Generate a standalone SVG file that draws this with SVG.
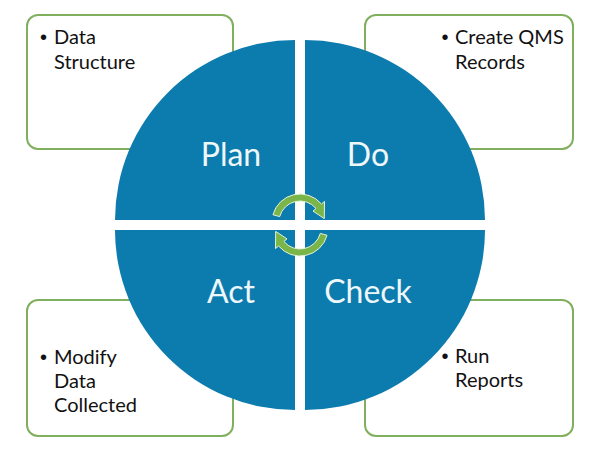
<svg xmlns="http://www.w3.org/2000/svg" width="596" height="455" viewBox="0 0 596 455">
<defs>
<style>
.box{fill:#fff;stroke:#80B05E;stroke-width:2}
.q{fill:#0C7BAE}
.big{font-family:Lato,"Open Sans","Liberation Sans",sans-serif;font-size:32px;fill:#EEF7FA;text-anchor:middle}
.t{font-family:Lato,"Open Sans","Liberation Sans",sans-serif;font-size:20px;fill:#111}
.b{font-family:"Liberation Sans",sans-serif;font-size:20px;fill:#111;text-anchor:middle}
.arr{fill:#79B548;stroke:#E6F2DA;stroke-width:1}
</style>
</defs>
<rect width="596" height="455" fill="#fff"/>
<g id="box-plan"><rect class="box" x="27" y="15" width="206" height="134" rx="11"/>
<text class="b" x="43.5" y="44">•</text><text class="t" x="54" y="44">Data</text><text class="t" x="54" y="69">Structure</text></g>
<g id="box-do"><rect class="box" x="365" y="15" width="208" height="134" rx="11"/>
<text class="b" x="445" y="44">•</text><text class="t" x="455" y="44">Create QMS</text><text class="t" x="455" y="69">Records</text></g>
<g id="box-act"><rect class="box" x="27" y="300" width="206" height="136" rx="11"/>
<text class="b" x="43.5" y="364">•</text><text class="t" x="54" y="364">Modify</text><text class="t" x="54" y="388">Data</text><text class="t" x="54" y="412">Collected</text></g>
<g id="box-check"><rect class="box" x="365" y="300" width="208" height="136" rx="11"/>
<text class="b" x="445" y="363">•</text><text class="t" x="455" y="363">Run</text><text class="t" x="455" y="387">Reports</text></g>
<g id="plan"><path class="q" d="M295,220 L115,220 A180,180 0 0 1 295,40 Z"/><text class="big" x="231" y="166">Plan</text></g>
<g id="do"><path class="q" d="M305,220 L305,40 A180,180 0 0 1 485,220 Z"/><text class="big" x="368" y="166">Do</text></g>
<g id="check"><path class="q" d="M305,230 L485,230 A180,180 0 0 1 305,410 Z"/><text class="big" x="368" y="303">Check</text></g>
<g id="act"><path class="q" d="M295,230 L295,410 A180,180 0 0 1 115,230 Z"/><text class="big" x="231" y="303">Act</text></g>
<g id="connectors">
<path class="arr" d="M272.95,214.75 A28,28 0 0 1 321.45,204 L324.5,201.4 L324.3,218.6 L313,211.1 L316.1,208.5 A21,21 0 0 0 279.7,216.6 Z"/>
<path class="arr" transform="rotate(180 300 225)" d="M272.95,214.75 A28,28 0 0 1 321.45,204 L324.5,201.4 L324.3,218.6 L313,211.1 L316.1,208.5 A21,21 0 0 0 279.7,216.6 Z"/>
</g>
</svg>
